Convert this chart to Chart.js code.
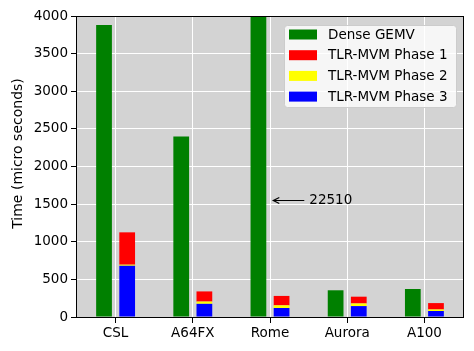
<!DOCTYPE html>
<html>
<head>
<meta charset="utf-8">
<script src="https://cdn.jsdelivr.net/npm/chart.js@4.4.0/dist/chart.umd.min.js"></script>
<style>
    html, body { margin: 0; padding: 0; background: #ffffff; }
</style>
</head>
<body>
<canvas id="mycanvas" width="474" height="351"></canvas>
<script>
// data
var platforms = ["CSL", "A64FX", "Rome", "Aurora", "A100"];
var denseGemv = [3880, 2400, 22510, 355, 372];
var tlrPhase1 = [430, 135, 125, 90, 85];
var tlrPhase2 = [15, 30, 35, 35, 20];
var tlrPhase3 = [680, 175, 120, 145, 80];
var yTickStep = 500;
var yMax = 4000;
var offScaleIndex = 2;          // Rome, bar runs off the top
var offScaleLabel = "22510";
var offScaleArrowAt = 1550;

var FONT = "'DejaVu Sans', sans-serif";

// grey panel behind the plot
var panelBg = {
    id: 'panelBg',
    beforeDraw: function(chart){
        var a = chart.chartArea, ctx = chart.ctx;
        ctx.save();
        ctx.fillStyle = '#d3d3d3';
        ctx.fillRect(a.left, a.top, a.right - a.left, a.bottom - a.top);
        ctx.restore();
    }
};

// frame, legend box, arrow note, y title
var extras = {
    id: 'extras',
    afterDatasetsDraw: function(chart){
        var a = chart.chartArea, ctx = chart.ctx;
        ctx.save();

        // frame (spines)
        ctx.strokeStyle = '#000000';
        ctx.lineWidth = 1;
        ctx.strokeRect(a.left - 0.5, a.top + 0.5, a.right - a.left + 1, a.bottom - a.top);

        // arrow pointing at the clipped bar
        var el = chart.getDatasetMeta(0).data[offScaleIndex];
        var ay = Math.round(chart.scales.y.getPixelForValue(offScaleArrowAt)) + 0.5;
        var tip = el.x + el.width / 2 + 7;
        ctx.strokeStyle = '#000000';
        ctx.lineWidth = 1.2;
        ctx.beginPath();
        ctx.moveTo(tip, ay);
        ctx.lineTo(tip + 31, ay);
        ctx.moveTo(tip + 6, ay - 3);
        ctx.lineTo(tip, ay);
        ctx.lineTo(tip + 6, ay + 3);
        ctx.stroke();
        ctx.fillStyle = '#000000';
        ctx.font = "13.5px " + FONT;
        ctx.textBaseline = 'middle';
        ctx.textAlign = 'left';
        ctx.fillText(offScaleLabel, tip + 36, ay);

        // legend inside the plot, upper right
        var bw = 172, bh = 82;
        var bx = a.right - 7 - bw, by = a.top + 9;
        ctx.fillStyle = 'rgba(255,255,255,0.8)';
        ctx.strokeStyle = '#cccccc';
        ctx.lineWidth = 1;
        ctx.beginPath();
        ctx.roundRect(bx + 0.5, by + 0.5, bw, bh, 3);
        ctx.fill();
        ctx.stroke();
        var ds = chart.data.datasets.slice().sort(function(p, q){ return p.legendRank - q.legendRank; });
        for(var i = 0; i < ds.length; i++){
            var ry = by + 9.5 + i * 20.7;
            ctx.fillStyle = ds[i].backgroundColor;
            ctx.fillRect(bx + 5, ry - 5, 28, 10);
            ctx.fillStyle = '#000000';
            ctx.fillText(ds[i].label, bx + 44, ry + 0.5);
        }

        // y axis title
        ctx.translate(18, 153.5);
        ctx.rotate(-Math.PI / 2);
        ctx.textAlign = 'center';
        ctx.font = "14px " + FONT;
        ctx.fillText("Time (micro seconds)", 0, 0);

        ctx.restore();
    }
};

// phase 3 goes first so it sits at the bottom of the stack
var datasets = [
    { label: 'Dense GEMV', data: denseGemv, backgroundColor: '#008000', stack: 'dense', legendRank: 0 },
    { label: 'TLR-MVM Phase 3', data: tlrPhase3, backgroundColor: '#0000ff', stack: 'tlr', legendRank: 3 },
    { label: 'TLR-MVM Phase 2', data: tlrPhase2, backgroundColor: '#ffff00', stack: 'tlr', legendRank: 2 },
    { label: 'TLR-MVM Phase 1', data: tlrPhase1, backgroundColor: '#ff0000', stack: 'tlr', legendRank: 1 }
];

var ctx = document.getElementById("mycanvas");

var barGraph = new Chart(ctx, {
    type: 'bar',
    data: { labels: platforms, datasets: datasets },
    options: {
        responsive: false,
        animation: false,
        devicePixelRatio: 1,
        datasets: { bar: { categoryPercentage: 0.6, barPercentage: 0.68 } },
        layout: { padding: { top: 16, right: 11, left: 0, bottom: 0 } },
        plugins: { legend: { display: false }, tooltip: { enabled: false } },
        scales: {
            x: {
                stacked: true,
                grid: { color: '#ffffff', offset: false, tickColor: '#000000', tickLength: 6, lineWidth: 1 },
                border: { display: false },
                ticks: { color: '#000000', font: { family: FONT, size: 13.5 }, padding: 2, maxRotation: 0 },
                afterFit: function(s){ s.height = 34; }
            },
            y: {
                stacked: true,
                min: 0,
                max: yMax,
                grid: { color: '#ffffff', tickColor: '#000000', tickLength: 6, lineWidth: 1 },
                border: { display: false },
                ticks: {
                    stepSize: yTickStep, color: '#000000', font: { family: FONT, size: 13.5 }, padding: 3,
                    callback: function(v){ return String(v); }
                },
                afterFit: function(s){ s.width = 77; }
            }
        }
    },
    plugins: [panelBg, extras]
});
</script>
</body>
</html>
